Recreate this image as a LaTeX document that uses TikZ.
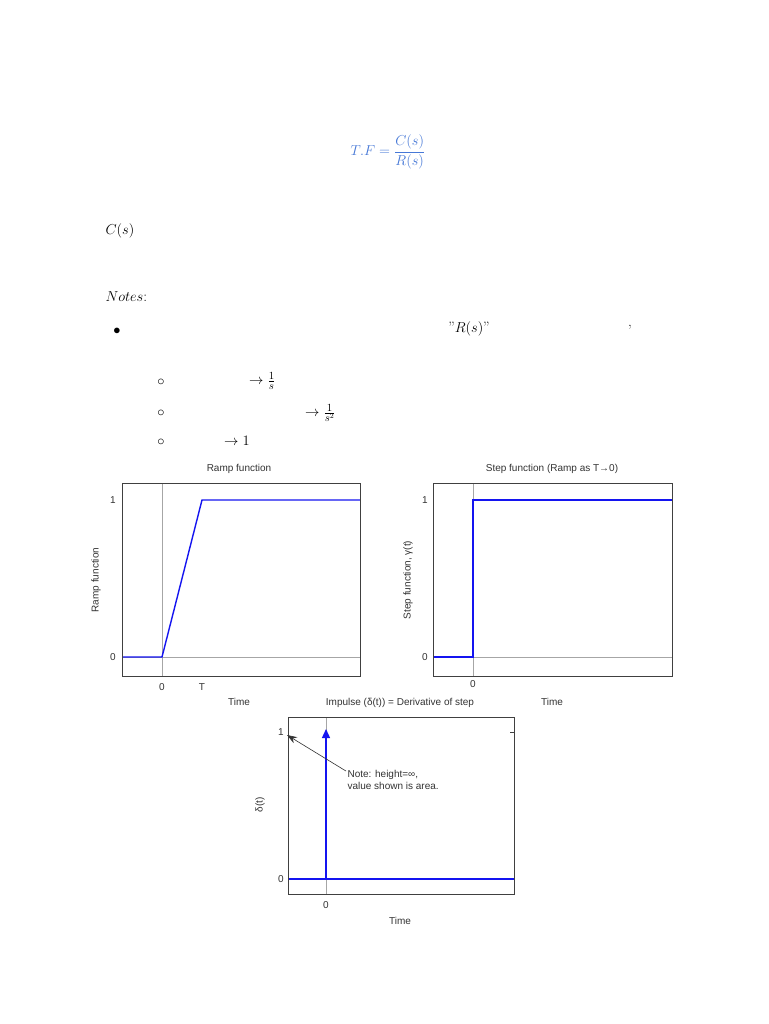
\documentclass[tikz,border=0pt]{standalone}
\usepackage{amsmath}
\usepackage{fontspec}
\setsansfont{Liberation Sans}
\usetikzlibrary{arrows.meta}
\definecolor{tfblue}{RGB}{70,120,215}
\definecolor{pblue}{RGB}{20,20,240}
\begin{document}
\begin{tikzpicture}[x=1pt,y=-1pt,
  frame/.style={draw=black!75,line width=0.6pt},
  guide/.style={draw=black!35,line width=0.5pt},
  sig/.style={draw=pblue,line width=1.4pt},
  lab/.style={font=\sffamily\fontsize{10}{11.5}\selectfont,text=black!80},
  mtxt/.style={font=\fontsize{15}{17}\selectfont}]
\useasboundingbox (0,0) rectangle (768,1024);
\fill[white] (0,0) rectangle (768,1024);
% top text
\node[mtxt,text=tfblue] (tf) at (388,152) {$T.F=\dfrac{C(s)}{R(s)}$};
\node[mtxt,anchor=west] (cs) at (102,231) {$C(s)$};
\node[mtxt,anchor=west] (notes) at (102,297) {$Notes$:};
\node[mtxt] (bul) at (117,331) {$\bullet$};
\node[mtxt] (rs) at (469,329) {"$R(s)$"};
\node[mtxt] (cm) at (630,327) {,};
\node[mtxt] (c1) at (161,382) {$\circ$};
\node[mtxt] (c2) at (161,413) {$\circ$};
\node[mtxt] (c3) at (161,442) {$\circ$};
\node[mtxt,anchor=west,inner sep=0pt] (a1) at (249,381) {$\rightarrow\frac{1}{s}$};
\node[mtxt,anchor=west,inner sep=0pt] (a2) at (305,413) {$\rightarrow\frac{1}{s^2}$};
\node[mtxt,anchor=west,inner sep=0pt] (a3) at (224,441) {$\rightarrow 1$};
% plot 1
\draw[guide] (162,483) -- (162,676);
\draw[guide] (122,657) -- (360,657);
\draw[sig] (122,657) -- (162,657) -- (202,500) -- (360,500);
\draw[frame] (122,483) rectangle (360,676);
\node[lab] (t1) at (239,469) {Ramp function};
\node[lab,rotate=90] (y1) at (96,580) {Ramp function};
\node[lab] (p1a) at (113,500) {1};
\node[lab] (p1b) at (113,657) {0};
\node[lab] (p1c) at (162,687) {0};
\node[lab] (p1d) at (202,687) {T};
\node[lab] (x1) at (239,702) {Time};
% plot 2
\draw[guide] (473,483) -- (473,676);
\draw[guide] (433,657) -- (672,657);
\draw[sig] (433,657) -- (473,657) -- (473,500) -- (672,500);
\draw[frame] (433,483) rectangle (672,676);
\node[lab] (t2) at (552,469) {Step function (Ramp as T→0)};
\node[lab,rotate=90] (y2) at (408,580) {Step function, γ(t)};
\node[lab] (p2a) at (425,500) {1};
\node[lab] (p2b) at (425,657) {0};
\node[lab] (p2c) at (473,684) {0};
\node[lab] (x2) at (552,702) {Time};
% plot 3
\draw[guide] (326,717) -- (326,894);
\draw[sig] (288,879) -- (514,879);
\draw[sig,-{Triangle[width=8pt,length=9pt]}] (326,879) -- (326,729);
\draw[frame] (288,717) rectangle (514,894);
\draw[frame] (510,732) -- (514,732);
\node[lab] (t3) at (400,703) {Impulse (δ(t)) = Derivative of step};
\node[lab,rotate=90] (y3) at (260,805) {δ(t)};
\node[lab] (p3a) at (281,732) {1};
\node[lab] (p3b) at (281,879) {0};
\node[lab] (p3c) at (326,905) {0};
\node[lab] (x3) at (400,921) {Time};
\node[lab,anchor=west,align=left] (note) at (344,780) {Note: height=∞,\\value shown is area.};
\coordinate (tip) at (287,735);
\draw[black!80,line width=0.6pt,-{Stealth[length=10pt,width=7pt]}] (note.north west) ++(2,4) -- (tip);
\end{tikzpicture}
\end{document}
